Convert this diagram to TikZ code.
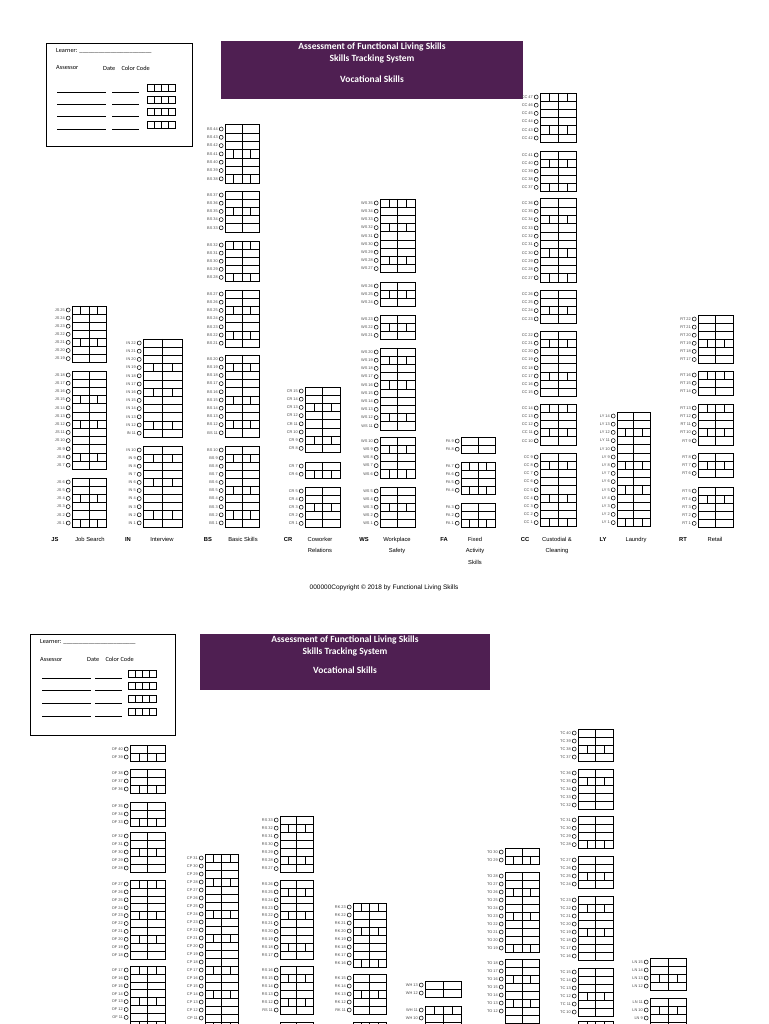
\documentclass[tikz,border=0pt]{standalone}
\usepackage{fontspec}
\setmainfont{Liberation Sans}
\newfontfamily\calfnt{Carlito}
\definecolor{purp}{HTML}{4F1F52}
\tikzset{lab/.style={font=\fontsize{3.9}{4}\selectfont,text=black!70,inner sep=0pt},
 foot/.style={font=\fontsize{5.8}{6}\selectfont,inner sep=0pt},
 rowbox/.style={line width=0.7pt}}
\newcommand\grp[8]{%
 \foreach \n [count=\i from 0] in {#5,...,#6}{%
  \pgfmathsetmacro\yy{-(#4)-\i*#7}%
  \pgfmathtruncatemacro\vis{\yy > -1019 ? 1 : 0}%
  \ifnum\vis=1
  \node[lab,anchor=east] at (#2-7,\yy) {#1 \n};
  \draw[line width=0.5pt] (#2-3.8,\yy) circle (2);
  \fi
  \draw[rowbox] (#2,\yy+#7/2) rectangle ++(#3,-#7);
  \draw[rowbox] (#2+#3/2,\yy+#7/2) -- ++(0,-#7);
  \pgfmathtruncatemacro\sp{mod(\n*5+#8,7)<2 ? 1 : 0}%
  \ifnum\sp=1
   \draw[line width=0.5pt] (#2+#3/4,\yy+#7/2) -- ++(0,-#7) (#2+3*#3/4,\yy+#7/2) -- ++(0,-#7);
  \fi
 }}
\newcommand\learner[9]{% x0,y0,x1,y1, rows start y, step, l1x, sx, bx
 \draw[line width=0.7pt] (#1,-#2) rectangle (#3,-#4);
 \node[font=\calfnt\fontsize{6.3}{7}\selectfont,anchor=west,inner sep=0] at (#1+10,-#2-8) {Learner: \_\_\_\_\_\_\_\_\_\_\_\_\_\_\_\_\_\_\_\_\_\_\_};
 \node[font=\calfnt\fontsize{6.3}{7}\selectfont,anchor=west,inner sep=0] at (#1+10,-#2-25) {Assessor};
 \node[font=\calfnt\fontsize{6.3}{7}\selectfont,anchor=west,inner sep=0] at (#1+57,-#2-25) {Date\quad Color Code};
 \foreach \k in {0,1,2,3}{
  \pgfmathsetmacro\ry{-(#5)-\k*#6}
  \draw (#7,\ry) -- ++(49,0);
  \draw (#8,\ry) -- ++(27,0);
  \draw[line width=0.6pt] (#9,\ry+1) rectangle ++(28,7);
  \draw (#9+7,\ry+1) -- ++(0,7) (#9+14,\ry+1) -- ++(0,7) (#9+21,\ry+1) -- ++(0,7);
 }}
\newcommand\titlebox[5]{%
 \fill[purp] (#1,-#2) rectangle (#3,-#4);
 \node[text=white,font=\calfnt\bfseries\fontsize{9.5}{12}\selectfont,align=center,inner sep=0] at ({(#1+#3)/2},-#2-12) {Assessment of Functional Living Skills\\Skills Tracking System};
 \node[text=white,font=\calfnt\bfseries\fontsize{9.5}{11}\selectfont,inner sep=0] at ({(#1+#3)/2},-#2-#5) {Vocational Skills};
}
\begin{document}
\begin{tikzpicture}[x=1pt,y=1pt]
\path[use as bounding box,fill=white] (0,0) rectangle (768,-1024);
\begin{scope}
\clip (0,0) rectangle (768,-1024);
% ---------- page 1
\learner{46}{43}{192}{146}{92}{12.3}{57}{112}{147}
\titlebox{221}{41}{523}{99}{38}
\grp{JS}{72}{34}{310}{25}{19}{8.1}{1}
\grp{JS}{72}{34}{375}{18}{7}{8.2}{3}
\grp{JS}{72}{34}{482}{6}{1}{8.2}{2}
\grp{IN}{143}{39}{343}{22}{11}{8.2}{4}
\grp{IN}{143}{39}{450}{10}{1}{8.1}{5}
\grp{BS}{225}{34}{129}{44}{38}{8.3}{6}
\grp{BS}{225}{34}{195}{37}{33}{8.2}{0}
\grp{BS}{225}{34}{245}{32}{28}{8.1}{1}
\grp{BS}{225}{34}{294}{27}{21}{8.2}{2}
\grp{BS}{225}{34}{359}{20}{11}{8.2}{3}
\grp{BS}{225}{34}{450}{10}{1}{8.1}{4}
\grp{CR}{305}{35}{391}{15}{8}{8.2}{5}
\grp{CR}{305}{35}{466}{7}{6}{8.2}{6}
\grp{CR}{305}{35}{491}{5}{1}{8.1}{0}
\grp{WS}{380}{35}{203}{35}{27}{8.2}{1}
\grp{WS}{380}{35}{286}{26}{24}{8.2}{2}
\grp{WS}{380}{35}{319}{23}{21}{8.2}{3}
\grp{WS}{380}{35}{352}{20}{11}{8.2}{4}
\grp{WS}{380}{35}{441}{10}{6}{8.2}{5}
\grp{WS}{380}{35}{491}{5}{1}{8.1}{6}
\grp{FA}{461}{34}{441}{9}{8}{8.2}{0}
\grp{FA}{461}{34}{466}{7}{4}{8.1}{1}
\grp{FA}{461}{34}{507}{3}{1}{8.1}{2}
\grp{CC}{540}{36}{97}{47}{42}{8.2}{3}
\grp{CC}{540}{36}{155}{41}{37}{8.1}{4}
\grp{CC}{540}{36}{203}{36}{27}{8.3}{5}
\grp{CC}{540}{36}{294}{26}{23}{8.3}{6}
\grp{CC}{540}{36}{335}{22}{15}{8.2}{0}
\grp{CC}{540}{36}{408}{14}{10}{8.2}{1}
\grp{CC}{540}{36}{457}{9}{1}{8.2}{2}
\grp{LY}{617}{33}{416}{14}{1}{8.2}{3}
\grp{RT}{698}{35}{319}{22}{17}{8.1}{4}
\grp{RT}{698}{35}{375}{16}{14}{8.2}{5}
\grp{RT}{698}{35}{408}{13}{9}{8.2}{6}
\grp{RT}{698}{35}{457}{8}{6}{8.2}{0}
\grp{RT}{698}{35}{491}{5}{1}{8.1}{1}
\foreach \a/\ax/\d/\dx in {JS/55/Job Search/90, IN/128/Interview/162, BS/208/Basic Skills/243, CR/288/Coworker\\Relations/320, WS/364/Workplace\\Safety/397, FA/444/Fixed\\Activity\\Skills/475, CC/525/Custodial \&\\Cleaning/557, LY/603/Laundry/636, RT/683/Retail/715}{
 \node[foot,font=\bfseries\fontsize{5.8}{6}\selectfont,anchor=north] at (\ax,-537) {\a};
 \node[foot,align=center,anchor=north,font=\fontsize{5.8}{11.5}\selectfont] at (\dx,-537) {\d};
}
\node[foot,font=\fontsize{6.5}{7}\selectfont] at (384,-588) {000000Copyright \textcopyright{} 2018 by Functional Living Skills};
% ---------- page 2
\learner{30}{634}{175}{735}{678}{12.6}{42}{95}{128}
\titlebox{200}{634}{490}{690}{36}
\grp{OF}{130}{35}{749}{40}{39}{8}{1}
\grp{OF}{130}{35}{773}{38}{36}{8}{2}
\grp{OF}{130}{35}{806}{35}{33}{8}{3}
\grp{OF}{130}{35}{836}{32}{28}{8}{4}
\grp{OF}{130}{35}{884}{27}{18}{7.9}{5}
\grp{OF}{130}{35}{970}{17}{1}{7.9}{6}
\grp{CP}{205}{33}{858}{31}{1}{8}{0}
\grp{RS}{280}{33}{820}{33}{27}{8.1}{1}
\grp{RS}{280}{33}{884}{26}{17}{7.9}{2}
\grp{RS}{280}{33}{970}{16}{11}{8}{3}
\grp{RS}{280}{33}{1026}{10}{1}{8}{4}
\grp{RK}{353}{33}{907}{23}{16}{8}{5}
\grp{RK}{353}{33}{978}{15}{11}{8}{6}
\grp{RK}{353}{33}{1026}{10}{1}{8}{0}
\grp{WH}{425}{36}{985}{13}{12}{8}{1}
\grp{WH}{425}{36}{1010}{11}{1}{8}{2}
\grp{TO}{505}{34}{852}{30}{29}{8}{3}
\grp{TO}{505}{34}{876}{28}{19}{8}{4}
\grp{TO}{505}{34}{963}{18}{1}{8}{5}
\grp{TC}{578}{35}{733}{40}{37}{8}{6}
\grp{TC}{578}{35}{773}{36}{32}{8}{0}
\grp{TC}{578}{35}{820}{31}{28}{8.2}{1}
\grp{TC}{578}{35}{860}{27}{24}{8}{2}
\grp{TC}{578}{35}{900}{23}{16}{8}{3}
\grp{TC}{578}{35}{972}{15}{10}{8}{4}
\grp{TC}{578}{35}{1025}{9}{1}{8}{5}
\grp{LN}{650}{36}{962}{15}{12}{8}{6}
\grp{LN}{650}{36}{1002}{11}{1}{8}{0}
\end{scope}
\end{tikzpicture}
\end{document}
